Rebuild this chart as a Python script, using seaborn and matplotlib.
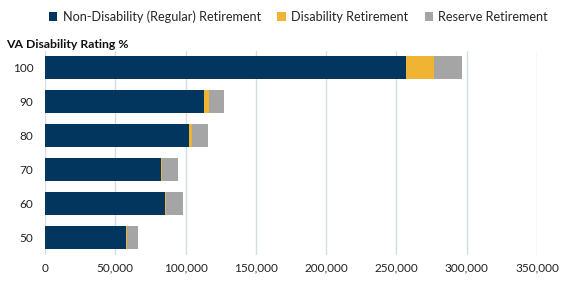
import matplotlib
matplotlib.use("Agg")
import matplotlib.pyplot as plt
import seaborn as sns
import pandas as pd
import numpy as np
from matplotlib.ticker import FuncFormatter
from matplotlib.patches import Patch

ratings = ["100", "90", "80", "70", "60", "50"]
non_disability = [257000, 113300, 102100, 82200, 85600, 57800]
disability = [20000, 3600, 2200, 1200, 400, 700]
reserve = [19800, 10600, 11800, 11400, 12400, 7900]
series_names = ["Non-Disability (Regular) Retirement", "Disability Retirement", "Reserve Retirement"]
colors = ["#03365F", "#F0B435", "#A5A5A5"]

sns.set_theme(style="white")
plt.rcParams["font.family"] = ["Lato", "DejaVu Sans"]

df = pd.DataFrame({"rating": ratings, "nd": non_disability, "d": disability, "r": reserve})
df["c1"] = df["nd"]
df["c2"] = df["nd"] + df["d"]
df["c3"] = df["c2"] + df["r"]

fig = plt.figure(figsize=(5.76, 2.88), dpi=100)
ax = fig.add_axes([45/576, 1 - 254.5/288, (537 - 45)/576, 204/288])

for col, c in zip(["c3", "c2", "c1"], colors[::-1]):
    sns.barplot(data=df, y="rating", x=col, order=ratings, orient="h", color=c,
                width=0.68, ax=ax, saturation=1, linewidth=0)

ax.set_xlim(0, 350000)
ax.set_xticks(np.arange(0, 350001, 50000))
ax.xaxis.set_major_formatter(FuncFormatter(lambda v, p: f"{int(v):,}"))
ax.grid(axis="x", color="#D5DDE4", linewidth=1)
ax.set_axisbelow(True)
for s in ax.spines.values():
    s.set_visible(False)
ax.set_xlabel("")
ax.set_ylabel("")
ax.tick_params(axis="both", length=0, labelsize=8.5, colors="#222222")
ax.tick_params(axis="y", pad=8.5)
ax.tick_params(axis="x", pad=6)

fig.text(6/576, 1 - 44/288, "VA Disability Rating %", fontsize=8.8, fontweight="bold",
         va="center", ha="left", color="#111111")

handles = [Patch(facecolor=c, edgecolor="none") for c in colors]
fig.legend(handles, series_names, loc="center", bbox_to_anchor=(0.518, 1 - 17/288), ncol=3,
           frameon=False, fontsize=9.1, handlelength=0.7, handleheight=0.7,
           handletextpad=0.4, columnspacing=1.3)

fig.savefig("out.png", dpi=100)
